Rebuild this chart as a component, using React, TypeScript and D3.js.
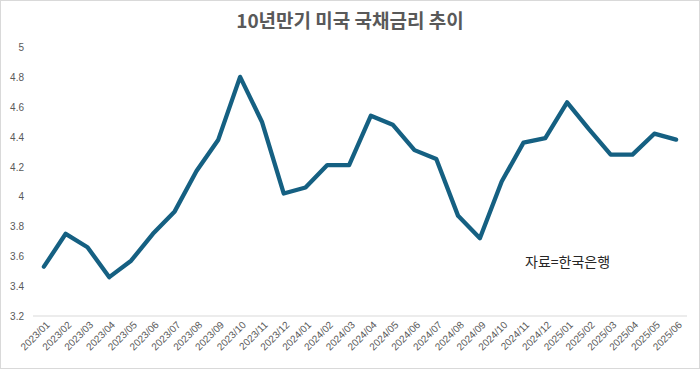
import React from "react";
import * as d3 from "d3";

const months = [
  "2023/01", "2023/02", "2023/03", "2023/04", "2023/05", "2023/06",
  "2023/07", "2023/08", "2023/09", "2023/10", "2023/11", "2023/12",
  "2024/01", "2024/02", "2024/03", "2024/04", "2024/05", "2024/06",
  "2024/07", "2024/08", "2024/09", "2024/10", "2024/11", "2024/12",
  "2025/01", "2025/02", "2025/03", "2025/04", "2025/05", "2025/06",
];
const yields = [
  3.53, 3.75, 3.66, 3.46, 3.57, 3.75, 3.9, 4.17, 4.38, 4.8, 4.5, 4.02,
  4.06, 4.21, 4.21, 4.54, 4.48, 4.31, 4.25, 3.87, 3.72, 4.1, 4.36, 4.39,
  4.63, 4.45, 4.28, 4.28, 4.42, 4.38,
];
const yTicks = [3.2, 3.4, 3.6, 3.8, 4, 4.2, 4.4, 4.6, 4.8, 5];

const W = 700;
const H = 369;
const left = 33;
const right = 687;
const top = 47;
const bottom = 316;

const x = d3.scaleBand<string>().domain(months).range([left, right]);
const y = d3.scaleLinear().domain([3.2, 5]).range([bottom, top]);

const path = d3
  .line<number>()
  .x((_, i) => (x(months[i]) as number) + x.bandwidth() / 2)
  .y(d => y(d))(yields);

export default function App() {
  const font = "'Liberation Sans', Arial, sans-serif";
  return (
    <>
      <style>{`body{margin:0}`}</style>
      <svg width={W} height={H} style={{ display: "block" }}>
        <rect x={0.5} y={0.5} width={W - 1} height={H - 1} fill="#fff" stroke="#d9d9d9" />
        <text
          x={W / 2}
          y={28}
          textAnchor="middle"
          fontFamily="'Noto Sans CJK KR', sans-serif"
          fontWeight="bold"
          fontSize={19}
          fill="#595959"
        >
          10년만기 미국 국채금리 추이
        </text>
        {yTicks.map(t => (
          <text
            key={t}
            x={24}
            y={y(t) + 4}
            textAnchor="end"
            fontFamily={font}
            fontSize={10}
            fill="#595959"
          >
            {String(t)}
          </text>
        ))}
        <line x1={left} x2={right} y1={bottom} y2={bottom} stroke="#d9d9d9" strokeWidth={1} />
        {months.map(m => {
          const cx = (x(m) as number) + x.bandwidth() / 2 + 4;
          const cy = bottom + 7;
          return (
            <text
              key={m}
              transform={`translate(${cx},${cy}) rotate(-45)`}
              textAnchor="end"
              dy="0.35em"
              fontFamily={font}
              fontSize={10}
              fill="#595959"
            >
              {m}
            </text>
          );
        })}
        <path
          d={path ?? ""}
          fill="none"
          stroke="#156082"
          strokeWidth={4.3}
          strokeLinejoin="round"
          strokeLinecap="round"
        />
        <text
          x={525}
          y={267}
          fontFamily="'Noto Sans CJK KR', sans-serif"
          fontSize={14}
          fill="#262626"
        >
          자료=한국은행
        </text>
      </svg>
    </>
  );
}
